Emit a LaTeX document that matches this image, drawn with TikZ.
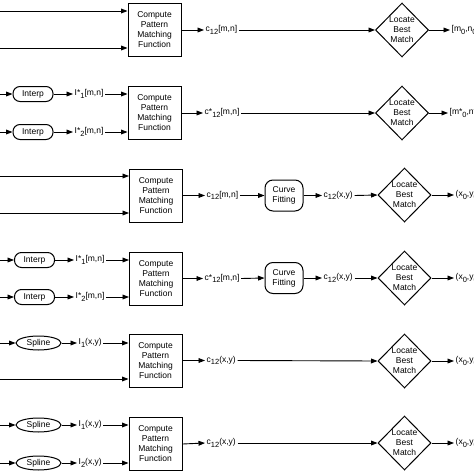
\documentclass[tikz,border=0pt]{standalone}
\usepackage{fontspec}
\setmainfont{Liberation Sans}
\usetikzlibrary{arrows.meta,shapes.geometric}
\newcommand\lw[1]{\raisebox{-2.2pt}{\fontsize{7.5}{8}\selectfont #1}}
\begin{document}
\begin{tikzpicture}[x=1pt,y=-1pt,
  every node/.style={font=\fontsize{8.5}{10}\selectfont},
  cbox/.style={draw,line width=1pt,minimum width=53pt,minimum height=53pt,align=center,inner sep=0pt},
  dia/.style={draw,diamond,line width=1pt,minimum width=53pt,minimum height=54pt,inner sep=0pt},
  dtext/.style={label={[align=center,font=\fontsize{8.5}{10}\selectfont]center:Locate\\Best\\Match}},
  interp/.style={draw,line width=1pt,rounded corners=7pt,minimum width=40pt,minimum height=15pt,inner sep=0pt},
  cfit/.style={draw,line width=1pt,rounded corners=8pt,minimum width=38pt,minimum height=31pt,align=center,inner sep=0pt},
  spl/.style={draw,ellipse,line width=1pt,minimum width=45pt,minimum height=14pt,inner sep=0pt},
  lab/.style={inner sep=1.5pt,anchor=west},
  arr/.style={-{Triangle[length=6.5pt,width=4.8pt]},line width=0.9pt}]
\useasboundingbox (0,0) rectangle (474,474);
\clip (0,0) rectangle (474,474);
\fill[white] (0,0) rectangle (474,474);

% ---------- Row 1
\node[cbox] (B1) at (154.5,30) {Compute\\Pattern\\Matching\\Function};
\coordinate (i1a) at (0,11);
\coordinate (i1b) at (0,48);
\draw[arr] (i1a) -- (i1a -| B1.west);
\draw[arr] (i1b) -- (i1b -| B1.west);
\node[lab] (c1) at (204,30) {c\lw{12}[m,n]};
\draw[arr] (B1.east) -- (c1.west);
\node[dia,dtext] (D1) at (402,30) {};
\draw[arr] (c1.east) -- (D1.west);
\node[lab] (o1) at (450,30) {[m\lw{0},n\lw{0}]};
\draw[arr] (D1.east) -- (o1.west);

% ---------- Row 2
\coordinate (i2a) at (0,94);
\coordinate (i2b) at (0,132);
\node[interp] (P2a) at (33,94) {Interp};
\node[interp] (P2b) at (33,132) {Interp};
\draw[arr] (i2a) -- (P2a.west);
\draw[arr] (i2b) -- (P2b.west);
\node[lab] (l2a) at (73,94) {I*\lw{1}[m,n]};
\node[lab] (l2b) at (73,132) {I*\lw{2}[m,n]};
\draw[arr] (P2a.east) -- (l2a.west);
\draw[arr] (P2b.east) -- (l2b.west);
\node[cbox] (B2) at (154.5,113) {Compute\\Pattern\\Matching\\Function};
\draw[arr] (l2a.east) -- (l2a.east -| B2.west);
\draw[arr] (l2b.east) -- (l2b.east -| B2.west);
\node[lab] (c2) at (203,113) {c*\lw{12}[m,n]};
\draw[arr] (B2.east) -- (c2.west);
\node[dia,dtext] (D2) at (402,113) {};
\draw[arr] (c2.east) -- (D2.west);
\node[lab] (o2) at (448,113) {[m*\lw{0},n*\lw{0}]};
\draw[arr] (D2.east) -- (o2.west);

% ---------- Row 3
\node[cbox] (B3) at (156,195.5) {Compute\\Pattern\\Matching\\Function};
\coordinate (i3a) at (0,176);
\coordinate (i3b) at (0,213);
\draw[arr] (i3a) -- (i3a -| B3.west);
\draw[arr] (i3b) -- (i3b -| B3.west);
\node[lab] (c3) at (205,195.5) {c\lw{12}[m,n]};
\draw[arr] (B3.east) -- (c3.west);
\node[cfit] (F3) at (284,195.5) {Curve\\Fitting};
\draw[arr] (c3.east) -- (F3.west);
\node[lab] (x3) at (322,195.5) {c\lw{12}(x,y)};
\draw[arr] (F3.east) -- (x3.west);
\node[dia,dtext] (D3) at (404.5,195) {};
\draw[arr] (x3.east) -- (D3.west);
\node[lab] (o3) at (454,195) {(x\lw{0},y\lw{0})};
\draw[arr] (D3.east) -- (o3.west);

% ---------- Row 4
\coordinate (i4a) at (0,260);
\coordinate (i4b) at (0,297);
\node[interp] (P4a) at (34.5,260) {Interp};
\node[interp] (P4b) at (34.5,297) {Interp};
\draw[arr] (i4a) -- (P4a.west);
\draw[arr] (i4b) -- (P4b.west);
\node[lab] (l4a) at (74,260) {I*\lw{1}[m,n]};
\node[lab] (l4b) at (74,297) {I*\lw{2}[m,n]};
\draw[arr] (P4a.east) -- (l4a.west);
\draw[arr] (P4b.east) -- (l4b.west);
\node[cbox] (B4) at (156,278.5) {Compute\\Pattern\\Matching\\Function};
\draw[arr] (l4a.east) -- (l4a.east -| B4.west);
\draw[arr] (l4b.east) -- (l4b.east -| B4.west);
\node[lab] (c4) at (203,278.5) {c*\lw{12}[m,n]};
\draw[arr] (B4.east) -- (c4.west);
\node[cfit] (F4) at (284,278) {Curve\\Fitting};
\draw[arr] (c4.east) -- (F4.west);
\node[lab] (x4) at (322,278) {c\lw{12}(x,y)};
\draw[arr] (F4.east) -- (x4.west);
\node[dia,dtext] (D4) at (404.5,278) {};
\draw[arr] (x4.east) -- (D4.west);
\node[lab] (o4) at (454,278) {(x\lw{0},y\lw{0})};
\draw[arr] (D4.east) -- (o4.west);

% ---------- Row 5
\coordinate (i5a) at (0,343);
\coordinate (i5b) at (0,379);
\node[spl] (S5) at (38.5,343) {Spline};
\draw[arr] (i5a) -- (S5.west);
\node[lab] (l5) at (77,343) {I\lw{1}(x,y)};
\draw[arr] (S5.east) -- (l5.west);
\node[cbox] (B5) at (155.5,360.5) {Compute\\Pattern\\Matching\\Function};
\draw[arr] (l5.east) -- (l5.east -| B5.west);
\draw[arr] (i5b) -- (i5b -| B5.west);
\node[lab] (c5) at (205,360.5) {c\lw{12}(x,y)};
\draw[arr] (B5.east) -- (c5.west);
\node[dia,dtext] (D5) at (404.5,361) {};
\draw[arr] (c5.east) -- (D5.west);
\node[lab] (o5) at (454,361) {(x\lw{0},y\lw{0})};
\draw[arr] (D5.east) -- (o5.west);

% ---------- Row 6
\coordinate (i6a) at (0,425);
\coordinate (i6b) at (0,463);
\node[spl] (S6a) at (38.5,425) {Spline};
\node[spl] (S6b) at (38.5,463) {Spline};
\draw[arr] (i6a) -- (S6a.west);
\draw[arr] (i6b) -- (S6b.west);
\node[lab] (l6a) at (77,425) {I\lw{1}(x,y)};
\node[lab] (l6b) at (77,463) {I\lw{2}(x,y)};
\draw[arr] (S6a.east) -- (l6a.west);
\draw[arr] (S6b.east) -- (l6b.west);
\node[cbox] (B6) at (155.5,444) {Compute\\Pattern\\Matching\\Function};
\draw[arr] (l6a.east) -- (l6a.east -| B6.west);
\draw[arr] (l6b.east) -- (l6b.east -| B6.west);
\node[lab] (c6) at (205,443) {c\lw{12}(x,y)};
\draw[arr] (B6.east) -- (c6.west);
\node[dia,dtext] (D6) at (404.5,443) {};
\draw[arr] (c6.east) -- (D6.west);
\node[lab] (o6) at (454,443) {(x\lw{0},y\lw{0})};
\draw[arr] (D6.east) -- (o6.west);
\end{tikzpicture}
\end{document}
